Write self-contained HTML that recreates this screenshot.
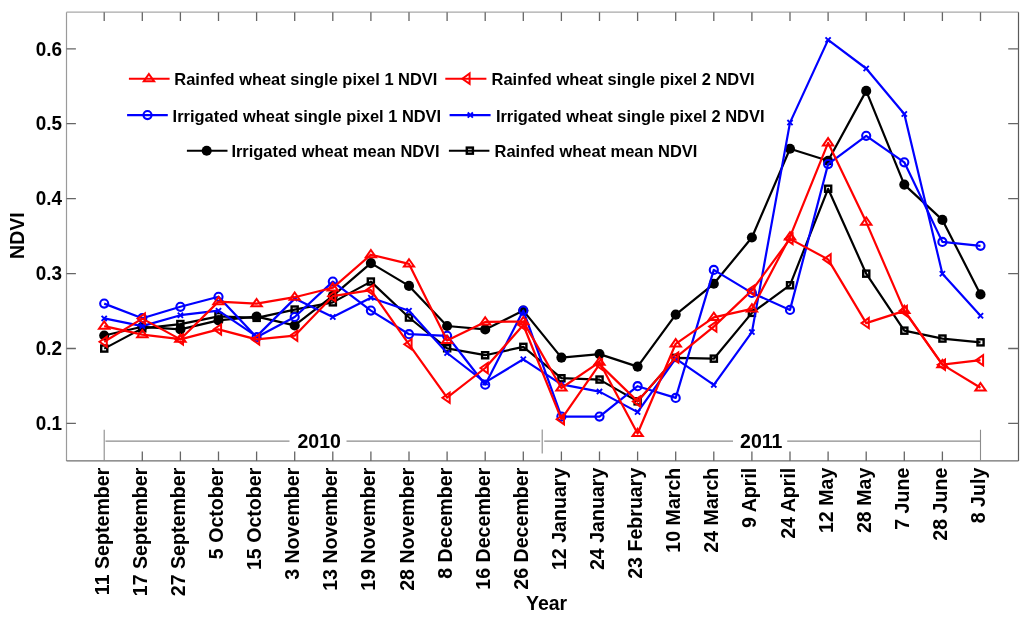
<!DOCTYPE html>
<html lang="en"><head><meta charset="utf-8"><title>NDVI time series</title>
<style>html,body{margin:0;padding:0;background:#fff;}svg{display:block;}text{font-family:"Liberation Sans",Arial,sans-serif;font-weight:bold;fill:#000;}</style></head><body>
<svg width="1024" height="617" viewBox="0 0 1024 617">
<rect width="1024" height="617" fill="#fff"/>
<g fill="none" stroke-width="1.2">
<path d="M66.5,12.2H1018.5" stroke="#a8a8a8"/>
<path d="M66.5,12.2V460.9" stroke="#9a9a9a"/>
<path d="M1018.5,12.2V460.9" stroke="#5a5a5a"/>
<path d="M66.5,460.9H1018.5" stroke="#6e6e6e"/>
</g>
<path d="M104.2,12.2v8.8M142.3,12.2v8.8M142.3,460.9v-9.3M180.4,12.2v8.8M180.4,460.9v-9.3M218.5,12.2v8.8M218.5,460.9v-9.3M256.6,12.2v8.8M256.6,460.9v-9.3M294.7,12.2v8.8M294.7,460.9v-9.3M332.8,12.2v8.8M332.8,460.9v-9.3M370.9,12.2v8.8M370.9,460.9v-9.3M409.0,12.2v8.8M409.0,460.9v-9.3M447.1,12.2v8.8M447.1,460.9v-9.3M485.2,12.2v8.8M485.2,460.9v-9.3M523.3,12.2v8.8M523.3,460.9v-9.3M561.4,12.2v8.8M561.4,460.9v-9.3M599.5,12.2v8.8M599.5,460.9v-9.3M637.6,12.2v8.8M637.6,460.9v-9.3M675.7,12.2v8.8M675.7,460.9v-9.3M713.8,12.2v8.8M713.8,460.9v-9.3M751.9,12.2v8.8M751.9,460.9v-9.3M790.0,12.2v8.8M790.0,460.9v-9.3M828.1,12.2v8.8M828.1,460.9v-9.3M866.2,12.2v8.8M866.2,460.9v-9.3M904.3,12.2v8.8M904.3,460.9v-9.3M942.4,12.2v8.8M942.4,460.9v-9.3M980.5,12.2v8.8M66.5,48.8h9.4M1018.5,48.8h-10.3M66.5,123.7h9.4M1018.5,123.7h-10.3M66.5,198.6h9.4M1018.5,198.6h-10.3M66.5,273.6h9.4M1018.5,273.6h-10.3M66.5,348.5h9.4M1018.5,348.5h-10.3M66.5,423.4h9.4M1018.5,423.4h-10.3" stroke="#666666" stroke-width="1.3" fill="none"/>
<path d="M104.2,429.8V460.9M980.5,429.8V460.9M542.2,429.6V453.6M105.5,441.1H289.5M346.5,441.1H540.2M544.2,441.1H733M787.2,441.1H980" stroke="#8c8c8c" stroke-width="1.1" fill="none"/>
<g transform="translate(0,0.4)">
<polyline points="104.2,335.1 142.3,326.4 180.4,329.0 218.5,320.0 256.6,316.2 294.7,325.0 332.8,295.5 370.9,262.7 409.0,285.5 447.1,325.6 485.2,329.0 523.3,310.2 561.4,357.2 599.5,353.7 637.6,366.2 675.7,314.2 713.8,283.4 751.9,237.1 790.0,148.4 828.1,160.3 866.2,90.5 904.3,184.2 942.4,219.5 980.5,294.0" fill="none" stroke="#000000" stroke-width="2.2" stroke-linejoin="round"/>
<circle cx="104.2" cy="335.1" r="5.05" fill="#000000"/><circle cx="142.3" cy="326.4" r="5.05" fill="#000000"/><circle cx="180.4" cy="329.0" r="5.05" fill="#000000"/><circle cx="218.5" cy="320.0" r="5.05" fill="#000000"/><circle cx="256.6" cy="316.2" r="5.05" fill="#000000"/><circle cx="294.7" cy="325.0" r="5.05" fill="#000000"/><circle cx="332.8" cy="295.5" r="5.05" fill="#000000"/><circle cx="370.9" cy="262.7" r="5.05" fill="#000000"/><circle cx="409.0" cy="285.5" r="5.05" fill="#000000"/><circle cx="447.1" cy="325.6" r="5.05" fill="#000000"/><circle cx="485.2" cy="329.0" r="5.05" fill="#000000"/><circle cx="523.3" cy="310.2" r="5.05" fill="#000000"/><circle cx="561.4" cy="357.2" r="5.05" fill="#000000"/><circle cx="599.5" cy="353.7" r="5.05" fill="#000000"/><circle cx="637.6" cy="366.2" r="5.05" fill="#000000"/><circle cx="675.7" cy="314.2" r="5.05" fill="#000000"/><circle cx="713.8" cy="283.4" r="5.05" fill="#000000"/><circle cx="751.9" cy="237.1" r="5.05" fill="#000000"/><circle cx="790.0" cy="148.4" r="5.05" fill="#000000"/><circle cx="828.1" cy="160.3" r="5.05" fill="#000000"/><circle cx="866.2" cy="90.5" r="5.05" fill="#000000"/><circle cx="904.3" cy="184.2" r="5.05" fill="#000000"/><circle cx="942.4" cy="219.5" r="5.05" fill="#000000"/><circle cx="980.5" cy="294.0" r="5.05" fill="#000000"/>
</g>
<g transform="translate(0,0.4)">
<polyline points="104.2,348.2 142.3,328.0 180.4,323.7 218.5,315.9 256.6,317.5 294.7,309.2 332.8,302.0 370.9,281.2 409.0,317.1 447.1,347.9 485.2,354.8 523.3,346.5 561.4,377.8 599.5,379.2 637.6,401.0 675.7,357.5 713.8,358.3 751.9,312.5 790.0,284.8 828.1,188.4 866.2,273.3 904.3,330.3 942.4,338.2 980.5,342.0" fill="none" stroke="#000000" stroke-width="2.2" stroke-linejoin="round"/>
<rect x="101.2" y="345.1" width="6.1" height="6.1" fill="none" stroke="#000000" stroke-width="2.4"/><rect x="139.2" y="324.9" width="6.1" height="6.1" fill="none" stroke="#000000" stroke-width="2.4"/><rect x="177.3" y="320.6" width="6.1" height="6.1" fill="none" stroke="#000000" stroke-width="2.4"/><rect x="215.4" y="312.8" width="6.1" height="6.1" fill="none" stroke="#000000" stroke-width="2.4"/><rect x="253.6" y="314.4" width="6.1" height="6.1" fill="none" stroke="#000000" stroke-width="2.4"/><rect x="291.6" y="306.1" width="6.1" height="6.1" fill="none" stroke="#000000" stroke-width="2.4"/><rect x="329.8" y="298.9" width="6.1" height="6.1" fill="none" stroke="#000000" stroke-width="2.4"/><rect x="367.8" y="278.1" width="6.1" height="6.1" fill="none" stroke="#000000" stroke-width="2.4"/><rect x="405.9" y="314.1" width="6.1" height="6.1" fill="none" stroke="#000000" stroke-width="2.4"/><rect x="444.1" y="344.8" width="6.1" height="6.1" fill="none" stroke="#000000" stroke-width="2.4"/><rect x="482.1" y="351.8" width="6.1" height="6.1" fill="none" stroke="#000000" stroke-width="2.4"/><rect x="520.3" y="343.4" width="6.1" height="6.1" fill="none" stroke="#000000" stroke-width="2.4"/><rect x="558.4" y="374.8" width="6.1" height="6.1" fill="none" stroke="#000000" stroke-width="2.4"/><rect x="596.5" y="376.1" width="6.1" height="6.1" fill="none" stroke="#000000" stroke-width="2.4"/><rect x="634.6" y="397.9" width="6.1" height="6.1" fill="none" stroke="#000000" stroke-width="2.4"/><rect x="672.7" y="354.4" width="6.1" height="6.1" fill="none" stroke="#000000" stroke-width="2.4"/><rect x="710.8" y="355.2" width="6.1" height="6.1" fill="none" stroke="#000000" stroke-width="2.4"/><rect x="748.9" y="309.4" width="6.1" height="6.1" fill="none" stroke="#000000" stroke-width="2.4"/><rect x="787.0" y="281.8" width="6.1" height="6.1" fill="none" stroke="#000000" stroke-width="2.4"/><rect x="825.1" y="185.3" width="6.1" height="6.1" fill="none" stroke="#000000" stroke-width="2.4"/><rect x="863.2" y="270.2" width="6.1" height="6.1" fill="none" stroke="#000000" stroke-width="2.4"/><rect x="901.3" y="327.2" width="6.1" height="6.1" fill="none" stroke="#000000" stroke-width="2.4"/><rect x="939.4" y="335.1" width="6.1" height="6.1" fill="none" stroke="#000000" stroke-width="2.4"/><rect x="977.5" y="338.9" width="6.1" height="6.1" fill="none" stroke="#000000" stroke-width="2.4"/>
</g>
<g transform="translate(0,0.4)">
<polyline points="104.2,303.2 142.3,317.8 180.4,306.4 218.5,296.4 256.6,336.8 294.7,316.6 332.8,281.2 370.9,310.2 409.0,333.8 447.1,335.4 485.2,384.3 523.3,310.2 561.4,416.2 599.5,416.2 637.6,385.8 675.7,397.5 713.8,269.5 751.9,292.5 790.0,309.5 828.1,163.7 866.2,135.4 904.3,161.9 942.4,241.5 980.5,245.4" fill="none" stroke="#0000ff" stroke-width="2.2" stroke-linejoin="round"/>
<circle cx="104.2" cy="303.2" r="4.05" fill="none" stroke="#0000ff" stroke-width="2.1"/><circle cx="142.3" cy="317.8" r="4.05" fill="none" stroke="#0000ff" stroke-width="2.1"/><circle cx="180.4" cy="306.4" r="4.05" fill="none" stroke="#0000ff" stroke-width="2.1"/><circle cx="218.5" cy="296.4" r="4.05" fill="none" stroke="#0000ff" stroke-width="2.1"/><circle cx="256.6" cy="336.8" r="4.05" fill="none" stroke="#0000ff" stroke-width="2.1"/><circle cx="294.7" cy="316.6" r="4.05" fill="none" stroke="#0000ff" stroke-width="2.1"/><circle cx="332.8" cy="281.2" r="4.05" fill="none" stroke="#0000ff" stroke-width="2.1"/><circle cx="370.9" cy="310.2" r="4.05" fill="none" stroke="#0000ff" stroke-width="2.1"/><circle cx="409.0" cy="333.8" r="4.05" fill="none" stroke="#0000ff" stroke-width="2.1"/><circle cx="447.1" cy="335.4" r="4.05" fill="none" stroke="#0000ff" stroke-width="2.1"/><circle cx="485.2" cy="384.3" r="4.05" fill="none" stroke="#0000ff" stroke-width="2.1"/><circle cx="523.3" cy="310.2" r="4.05" fill="none" stroke="#0000ff" stroke-width="2.1"/><circle cx="561.4" cy="416.2" r="4.05" fill="none" stroke="#0000ff" stroke-width="2.1"/><circle cx="599.5" cy="416.2" r="4.05" fill="none" stroke="#0000ff" stroke-width="2.1"/><circle cx="637.6" cy="385.8" r="4.05" fill="none" stroke="#0000ff" stroke-width="2.1"/><circle cx="675.7" cy="397.5" r="4.05" fill="none" stroke="#0000ff" stroke-width="2.1"/><circle cx="713.8" cy="269.5" r="4.05" fill="none" stroke="#0000ff" stroke-width="2.1"/><circle cx="751.9" cy="292.5" r="4.05" fill="none" stroke="#0000ff" stroke-width="2.1"/><circle cx="790.0" cy="309.5" r="4.05" fill="none" stroke="#0000ff" stroke-width="2.1"/><circle cx="828.1" cy="163.7" r="4.05" fill="none" stroke="#0000ff" stroke-width="2.1"/><circle cx="866.2" cy="135.4" r="4.05" fill="none" stroke="#0000ff" stroke-width="2.1"/><circle cx="904.3" cy="161.9" r="4.05" fill="none" stroke="#0000ff" stroke-width="2.1"/><circle cx="942.4" cy="241.5" r="4.05" fill="none" stroke="#0000ff" stroke-width="2.1"/><circle cx="980.5" cy="245.4" r="4.05" fill="none" stroke="#0000ff" stroke-width="2.1"/>
</g>
<g transform="translate(0,0.4)">
<polyline points="104.2,318.0 142.3,325.7 180.4,314.8 218.5,310.3 256.6,336.0 294.7,298.2 332.8,316.6 370.9,297.4 409.0,310.4 447.1,352.6 485.2,382.0 523.3,358.9 561.4,384.0 599.5,391.2 637.6,411.7 675.7,358.2 713.8,384.5 751.9,331.7 790.0,122.2 828.1,39.5 866.2,68.1 904.3,113.6 942.4,273.4 980.5,315.3" fill="none" stroke="#0000ff" stroke-width="2.2" stroke-linejoin="round"/>
<path d="M101.6,315.4L106.8,320.6M101.6,320.6L106.8,315.4" stroke="#0000ff" stroke-width="1.9" fill="none"/><path d="M139.7,323.1L144.9,328.3M139.7,328.3L144.9,323.1" stroke="#0000ff" stroke-width="1.9" fill="none"/><path d="M177.8,312.2L183.0,317.4M177.8,317.4L183.0,312.2" stroke="#0000ff" stroke-width="1.9" fill="none"/><path d="M215.9,307.7L221.1,312.9M215.9,312.9L221.1,307.7" stroke="#0000ff" stroke-width="1.9" fill="none"/><path d="M254.0,333.4L259.2,338.6M254.0,338.6L259.2,333.4" stroke="#0000ff" stroke-width="1.9" fill="none"/><path d="M292.1,295.6L297.3,300.8M292.1,300.8L297.3,295.6" stroke="#0000ff" stroke-width="1.9" fill="none"/><path d="M330.2,314.0L335.4,319.2M330.2,319.2L335.4,314.0" stroke="#0000ff" stroke-width="1.9" fill="none"/><path d="M368.3,294.8L373.5,300.0M368.3,300.0L373.5,294.8" stroke="#0000ff" stroke-width="1.9" fill="none"/><path d="M406.4,307.8L411.6,313.0M406.4,313.0L411.6,307.8" stroke="#0000ff" stroke-width="1.9" fill="none"/><path d="M444.5,350.0L449.7,355.2M444.5,355.2L449.7,350.0" stroke="#0000ff" stroke-width="1.9" fill="none"/><path d="M482.6,379.4L487.8,384.6M482.6,384.6L487.8,379.4" stroke="#0000ff" stroke-width="1.9" fill="none"/><path d="M520.7,356.3L525.9,361.5M520.7,361.5L525.9,356.3" stroke="#0000ff" stroke-width="1.9" fill="none"/><path d="M558.8,381.4L564.0,386.6M558.8,386.6L564.0,381.4" stroke="#0000ff" stroke-width="1.9" fill="none"/><path d="M596.9,388.6L602.1,393.8M596.9,393.8L602.1,388.6" stroke="#0000ff" stroke-width="1.9" fill="none"/><path d="M635.0,409.1L640.2,414.3M635.0,414.3L640.2,409.1" stroke="#0000ff" stroke-width="1.9" fill="none"/><path d="M673.1,355.6L678.3,360.8M673.1,360.8L678.3,355.6" stroke="#0000ff" stroke-width="1.9" fill="none"/><path d="M711.2,381.9L716.4,387.1M711.2,387.1L716.4,381.9" stroke="#0000ff" stroke-width="1.9" fill="none"/><path d="M749.3,329.1L754.5,334.3M749.3,334.3L754.5,329.1" stroke="#0000ff" stroke-width="1.9" fill="none"/><path d="M787.4,119.6L792.6,124.8M787.4,124.8L792.6,119.6" stroke="#0000ff" stroke-width="1.9" fill="none"/><path d="M825.5,36.9L830.7,42.1M825.5,42.1L830.7,36.9" stroke="#0000ff" stroke-width="1.9" fill="none"/><path d="M863.6,65.5L868.8,70.7M863.6,70.7L868.8,65.5" stroke="#0000ff" stroke-width="1.9" fill="none"/><path d="M901.7,111.0L906.9,116.2M901.7,116.2L906.9,111.0" stroke="#0000ff" stroke-width="1.9" fill="none"/><path d="M939.8,270.8L945.0,276.0M939.8,276.0L945.0,270.8" stroke="#0000ff" stroke-width="1.9" fill="none"/><path d="M977.9,312.7L983.1,317.9M977.9,317.9L983.1,312.7" stroke="#0000ff" stroke-width="1.9" fill="none"/>
</g>
<g transform="translate(0,0.4)">
<polyline points="104.2,325.7 142.3,334.2 180.4,338.8 218.5,301.2 256.6,303.3 294.7,296.8 332.8,287.4 370.9,254.3 409.0,263.5 447.1,340.1 485.2,321.5 523.3,321.2 561.4,387.6 599.5,361.8 637.6,433.1 675.7,343.4 713.8,317.0 751.9,308.5 790.0,236.5 828.1,142.4 866.2,221.7 904.3,310.0 942.4,364.2 980.5,387.4" fill="none" stroke="#ff0000" stroke-width="2.2" stroke-linejoin="round"/>
<path d="M104.2,321.0L109.4,328.3L99.0,328.3Z" fill="none" stroke="#ff0000" stroke-width="2.0" stroke-linejoin="miter"/><path d="M142.3,329.5L147.5,336.8L137.2,336.8Z" fill="none" stroke="#ff0000" stroke-width="2.0" stroke-linejoin="miter"/><path d="M180.4,334.1L185.6,341.4L175.2,341.4Z" fill="none" stroke="#ff0000" stroke-width="2.0" stroke-linejoin="miter"/><path d="M218.5,296.5L223.7,303.8L213.3,303.8Z" fill="none" stroke="#ff0000" stroke-width="2.0" stroke-linejoin="miter"/><path d="M256.6,298.6L261.8,305.9L251.5,305.9Z" fill="none" stroke="#ff0000" stroke-width="2.0" stroke-linejoin="miter"/><path d="M294.7,292.1L299.8,299.4L289.6,299.4Z" fill="none" stroke="#ff0000" stroke-width="2.0" stroke-linejoin="miter"/><path d="M332.8,282.7L337.9,290.0L327.7,290.0Z" fill="none" stroke="#ff0000" stroke-width="2.0" stroke-linejoin="miter"/><path d="M370.9,249.6L376.0,256.9L365.8,256.9Z" fill="none" stroke="#ff0000" stroke-width="2.0" stroke-linejoin="miter"/><path d="M409.0,258.8L414.1,266.1L403.9,266.1Z" fill="none" stroke="#ff0000" stroke-width="2.0" stroke-linejoin="miter"/><path d="M447.1,335.4L452.2,342.7L442.0,342.7Z" fill="none" stroke="#ff0000" stroke-width="2.0" stroke-linejoin="miter"/><path d="M485.2,316.8L490.3,324.1L480.1,324.1Z" fill="none" stroke="#ff0000" stroke-width="2.0" stroke-linejoin="miter"/><path d="M523.3,316.5L528.5,323.8L518.2,323.8Z" fill="none" stroke="#ff0000" stroke-width="2.0" stroke-linejoin="miter"/><path d="M561.4,382.9L566.6,390.2L556.3,390.2Z" fill="none" stroke="#ff0000" stroke-width="2.0" stroke-linejoin="miter"/><path d="M599.5,357.1L604.6,364.4L594.4,364.4Z" fill="none" stroke="#ff0000" stroke-width="2.0" stroke-linejoin="miter"/><path d="M637.6,428.4L642.8,435.7L632.5,435.7Z" fill="none" stroke="#ff0000" stroke-width="2.0" stroke-linejoin="miter"/><path d="M675.7,338.7L680.9,346.0L670.6,346.0Z" fill="none" stroke="#ff0000" stroke-width="2.0" stroke-linejoin="miter"/><path d="M713.8,312.3L719.0,319.6L708.7,319.6Z" fill="none" stroke="#ff0000" stroke-width="2.0" stroke-linejoin="miter"/><path d="M751.9,303.8L757.1,311.1L746.8,311.1Z" fill="none" stroke="#ff0000" stroke-width="2.0" stroke-linejoin="miter"/><path d="M790.0,231.8L795.2,239.1L784.9,239.1Z" fill="none" stroke="#ff0000" stroke-width="2.0" stroke-linejoin="miter"/><path d="M828.1,137.7L833.2,145.0L823.0,145.0Z" fill="none" stroke="#ff0000" stroke-width="2.0" stroke-linejoin="miter"/><path d="M866.2,217.0L871.4,224.3L861.1,224.3Z" fill="none" stroke="#ff0000" stroke-width="2.0" stroke-linejoin="miter"/><path d="M904.3,305.3L909.5,312.6L899.2,312.6Z" fill="none" stroke="#ff0000" stroke-width="2.0" stroke-linejoin="miter"/><path d="M942.4,359.5L947.6,366.8L937.3,366.8Z" fill="none" stroke="#ff0000" stroke-width="2.0" stroke-linejoin="miter"/><path d="M980.5,382.7L985.7,390.0L975.4,390.0Z" fill="none" stroke="#ff0000" stroke-width="2.0" stroke-linejoin="miter"/>
</g>
<g transform="translate(0,0.4)">
<polyline points="104.2,341.4 142.3,318.2 180.4,339.0 218.5,329.0 256.6,339.0 294.7,335.3 332.8,295.8 370.9,289.7 409.0,343.9 447.1,397.3 485.2,367.6 523.3,324.6 561.4,418.8 599.5,364.0 637.6,401.0 675.7,357.2 713.8,326.2 751.9,290.0 790.0,238.5 828.1,259.0 866.2,322.7 904.3,310.5 942.4,364.3 980.5,359.8" fill="none" stroke="#ff0000" stroke-width="2.2" stroke-linejoin="round"/>
<path d="M99.5,341.4L106.8,336.2L106.8,346.5Z" fill="none" stroke="#ff0000" stroke-width="2.0" stroke-linejoin="miter"/><path d="M137.6,318.2L144.9,313.1L144.9,323.3Z" fill="none" stroke="#ff0000" stroke-width="2.0" stroke-linejoin="miter"/><path d="M175.7,339.0L183.0,333.9L183.0,344.1Z" fill="none" stroke="#ff0000" stroke-width="2.0" stroke-linejoin="miter"/><path d="M213.8,329.0L221.1,323.9L221.1,334.1Z" fill="none" stroke="#ff0000" stroke-width="2.0" stroke-linejoin="miter"/><path d="M251.9,339.0L259.2,333.9L259.2,344.1Z" fill="none" stroke="#ff0000" stroke-width="2.0" stroke-linejoin="miter"/><path d="M290.0,335.3L297.3,330.2L297.3,340.4Z" fill="none" stroke="#ff0000" stroke-width="2.0" stroke-linejoin="miter"/><path d="M328.1,295.8L335.4,290.7L335.4,300.9Z" fill="none" stroke="#ff0000" stroke-width="2.0" stroke-linejoin="miter"/><path d="M366.2,289.7L373.5,284.6L373.5,294.8Z" fill="none" stroke="#ff0000" stroke-width="2.0" stroke-linejoin="miter"/><path d="M404.3,343.9L411.6,338.8L411.6,349.0Z" fill="none" stroke="#ff0000" stroke-width="2.0" stroke-linejoin="miter"/><path d="M442.4,397.3L449.7,392.2L449.7,402.4Z" fill="none" stroke="#ff0000" stroke-width="2.0" stroke-linejoin="miter"/><path d="M480.5,367.6L487.8,362.5L487.8,372.8Z" fill="none" stroke="#ff0000" stroke-width="2.0" stroke-linejoin="miter"/><path d="M518.6,324.6L525.9,319.5L525.9,329.8Z" fill="none" stroke="#ff0000" stroke-width="2.0" stroke-linejoin="miter"/><path d="M556.7,418.8L564.0,413.7L564.0,423.9Z" fill="none" stroke="#ff0000" stroke-width="2.0" stroke-linejoin="miter"/><path d="M594.8,364.0L602.1,358.9L602.1,369.1Z" fill="none" stroke="#ff0000" stroke-width="2.0" stroke-linejoin="miter"/><path d="M632.9,401.0L640.2,395.9L640.2,406.1Z" fill="none" stroke="#ff0000" stroke-width="2.0" stroke-linejoin="miter"/><path d="M671.0,357.2L678.3,352.1L678.3,362.3Z" fill="none" stroke="#ff0000" stroke-width="2.0" stroke-linejoin="miter"/><path d="M709.1,326.2L716.4,321.1L716.4,331.3Z" fill="none" stroke="#ff0000" stroke-width="2.0" stroke-linejoin="miter"/><path d="M747.2,290.0L754.5,284.9L754.5,295.1Z" fill="none" stroke="#ff0000" stroke-width="2.0" stroke-linejoin="miter"/><path d="M785.3,238.5L792.6,233.3L792.6,243.7Z" fill="none" stroke="#ff0000" stroke-width="2.0" stroke-linejoin="miter"/><path d="M823.4,259.0L830.7,253.8L830.7,264.1Z" fill="none" stroke="#ff0000" stroke-width="2.0" stroke-linejoin="miter"/><path d="M861.5,322.7L868.8,317.6L868.8,327.8Z" fill="none" stroke="#ff0000" stroke-width="2.0" stroke-linejoin="miter"/><path d="M899.6,310.5L906.9,305.4L906.9,315.6Z" fill="none" stroke="#ff0000" stroke-width="2.0" stroke-linejoin="miter"/><path d="M937.7,364.3L945.0,359.2L945.0,369.4Z" fill="none" stroke="#ff0000" stroke-width="2.0" stroke-linejoin="miter"/><path d="M975.8,359.8L983.1,354.7L983.1,364.9Z" fill="none" stroke="#ff0000" stroke-width="2.0" stroke-linejoin="miter"/>
</g>
<text transform="translate(62.0,55.5) scale(0.97,1.03)" font-size="19.5" text-anchor="end">0.6</text>
<text transform="translate(62.0,130.4) scale(0.97,1.03)" font-size="19.5" text-anchor="end">0.5</text>
<text transform="translate(62.0,205.3) scale(0.97,1.03)" font-size="19.5" text-anchor="end">0.4</text>
<text transform="translate(62.0,280.3) scale(0.97,1.03)" font-size="19.5" text-anchor="end">0.3</text>
<text transform="translate(62.0,355.2) scale(0.97,1.03)" font-size="19.5" text-anchor="end">0.2</text>
<text transform="translate(62.0,430.1) scale(0.97,1.03)" font-size="19.5" text-anchor="end">0.1</text>
<text transform="translate(24.3,235.6) rotate(-90)" font-size="19.5" text-anchor="middle">NDVI</text>
<text x="546.6" y="609.5" font-size="19.5" text-anchor="middle">Year</text>
<text x="319.2" y="448.1" font-size="19.5" text-anchor="middle">2010</text>
<text x="761.2" y="448.1" font-size="19.5" text-anchor="middle">2011</text>
<text transform="translate(108.7,467.7) rotate(-90)" font-size="19.6" text-anchor="end">11 September</text>
<text transform="translate(146.8,467.7) rotate(-90)" font-size="19.6" text-anchor="end">17 September</text>
<text transform="translate(184.9,467.7) rotate(-90)" font-size="19.6" text-anchor="end">27 September</text>
<text transform="translate(223.0,467.7) rotate(-90)" font-size="19.6" text-anchor="end">5 October</text>
<text transform="translate(261.1,467.7) rotate(-90)" font-size="19.6" text-anchor="end">15 October</text>
<text transform="translate(299.2,467.7) rotate(-90)" font-size="19.6" text-anchor="end">3 November</text>
<text transform="translate(337.3,467.7) rotate(-90)" font-size="19.6" text-anchor="end">13 November</text>
<text transform="translate(375.4,467.7) rotate(-90)" font-size="19.6" text-anchor="end">19 November</text>
<text transform="translate(413.5,467.7) rotate(-90)" font-size="19.6" text-anchor="end">28 November</text>
<text transform="translate(451.6,467.7) rotate(-90)" font-size="19.6" text-anchor="end">8 December</text>
<text transform="translate(489.7,467.7) rotate(-90)" font-size="19.6" text-anchor="end">16 December</text>
<text transform="translate(527.8,467.7) rotate(-90)" font-size="19.6" text-anchor="end">26 December</text>
<text transform="translate(565.9,467.7) rotate(-90)" font-size="19.6" text-anchor="end">12 January</text>
<text transform="translate(604.0,467.7) rotate(-90)" font-size="19.6" text-anchor="end">24 January</text>
<text transform="translate(642.1,467.7) rotate(-90)" font-size="19.6" text-anchor="end">23 February</text>
<text transform="translate(680.2,467.7) rotate(-90)" font-size="19.6" text-anchor="end">10 March</text>
<text transform="translate(718.3,467.7) rotate(-90)" font-size="19.6" text-anchor="end">24 March</text>
<text transform="translate(756.4,467.7) rotate(-90)" font-size="19.6" text-anchor="end">9 April</text>
<text transform="translate(794.5,467.7) rotate(-90)" font-size="19.6" text-anchor="end">24 April</text>
<text transform="translate(832.6,467.7) rotate(-90)" font-size="19.6" text-anchor="end">12 May</text>
<text transform="translate(870.7,467.7) rotate(-90)" font-size="19.6" text-anchor="end">28 May</text>
<text transform="translate(908.8,467.7) rotate(-90)" font-size="19.6" text-anchor="end">7 June</text>
<text transform="translate(946.9,467.7) rotate(-90)" font-size="19.6" text-anchor="end">28 June</text>
<text transform="translate(985.0,467.7) rotate(-90)" font-size="19.6" text-anchor="end">8 July</text>
<path d="M128.9,78.7H169.6" stroke="#ff0000" stroke-width="2.1" fill="none"/><path d="M148.9,74.0L154.1,81.3L143.8,81.3Z" fill="none" stroke="#ff0000" stroke-width="2.0" stroke-linejoin="miter"/><text x="174.3" y="85.1" font-size="16.45">Rainfed wheat single pixel 1 NDVI</text>
<path d="M445.3,78.7H486.4" stroke="#ff0000" stroke-width="2.1" fill="none"/><path d="M462.3,78.7L469.6,73.5L469.6,83.9Z" fill="none" stroke="#ff0000" stroke-width="2.0" stroke-linejoin="miter"/><text x="491.6" y="85.1" font-size="16.45">Rainfed wheat single pixel 2 NDVI</text>
<path d="M127.1,115.1H167.8" stroke="#0000ff" stroke-width="2.1" fill="none"/><circle cx="147.5" cy="115.1" r="4.05" fill="none" stroke="#0000ff" stroke-width="2.1"/><text x="172.6" y="121.5" font-size="16.45">Irrigated wheat single pixel 1 NDVI</text>
<path d="M449.6,115.1H490.6" stroke="#0000ff" stroke-width="2.1" fill="none"/><path d="M467.7,112.5L472.9,117.7M467.7,117.7L472.9,112.5" stroke="#0000ff" stroke-width="1.9" fill="none"/><text x="495.9" y="121.5" font-size="16.45">Irrigated wheat single pixel 2 NDVI</text>
<path d="M186.9,150.7H227.5" stroke="#000000" stroke-width="2.1" fill="none"/><circle cx="206.7" cy="150.7" r="5.05" fill="#000000"/><text x="231.4" y="157.1" font-size="16.45">Irrigated wheat mean NDVI</text>
<path d="M448.9,150.7H489.4" stroke="#000000" stroke-width="2.1" fill="none"/><rect x="466.8" y="147.6" width="6.1" height="6.1" fill="none" stroke="#000000" stroke-width="2.4"/><text x="494.6" y="157.1" font-size="16.45">Rainfed wheat mean NDVI</text>
</svg></body></html>
